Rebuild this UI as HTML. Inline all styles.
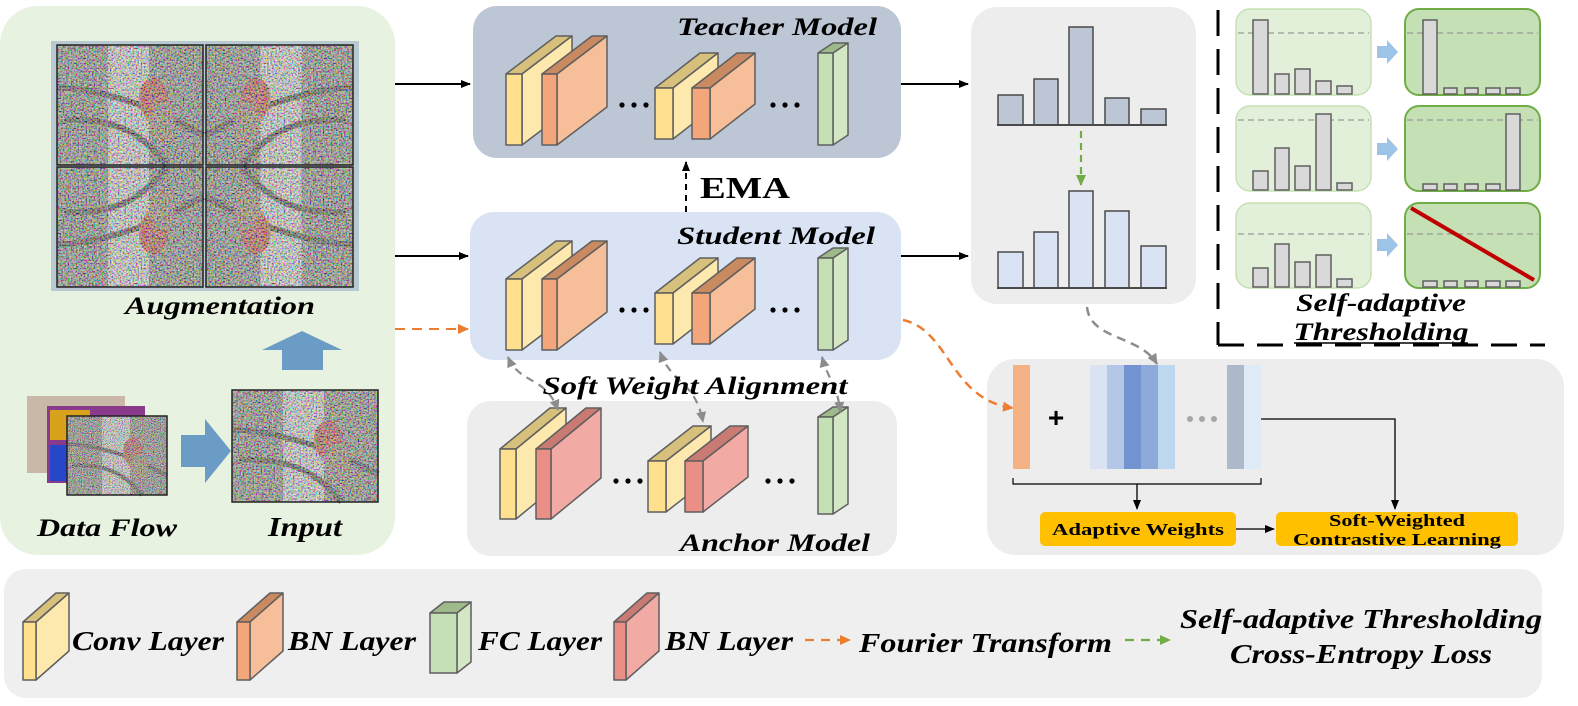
<!DOCTYPE html>
<html><head><meta charset="utf-8"><style>
html,body{margin:0;padding:0;background:#fff;}
svg{display:block;}
text{font-family:"Liberation Serif",serif;font-weight:bold;font-style:italic;fill:#000;}
text.n{font-style:normal;}
</style></head><body>
<svg width="1578" height="706" viewBox="0 0 1578 706" xmlns="http://www.w3.org/2000/svg">
<defs>
<marker id="ab" markerWidth="10" markerHeight="10" refX="9" refY="5" orient="auto" markerUnits="userSpaceOnUse"><path d="M0,1 L10,5 L0,9 Z" fill="#000"/></marker>
<marker id="ao" markerWidth="12" markerHeight="12" refX="10" refY="6" orient="auto" markerUnits="userSpaceOnUse"><path d="M0,1 L11,6 L0,11 Z" fill="#ed7d31"/></marker>
<marker id="ag" markerWidth="12" markerHeight="12" refX="10" refY="6" orient="auto" markerUnits="userSpaceOnUse"><path d="M0,1 L11,6 L0,11 Z" fill="#70ad47"/></marker>
<marker id="agr" markerWidth="12" markerHeight="12" refX="10" refY="6" orient="auto-start-reverse" markerUnits="userSpaceOnUse"><path d="M0,1 L11,6 L0,11 Z" fill="#8c8c8c"/></marker>
<filter id="nz" x="0" y="0" width="100%" height="100%">
<feTurbulence type="fractalNoise" baseFrequency="0.9" numOctaves="1" seed="3"/>
<feColorMatrix type="matrix" values="3 0 0 0 -1  0 3 0 0 -1  0 0 3 0 -1  0 0 0 0 0.6"/>
</filter>
<g id="bird">
<rect x="0" y="0" width="100" height="80" fill="#7d7d74"/>
<rect x="35" y="0" width="28" height="80" fill="#c9c9c6"/>
<path d="M0,28 C30,30 60,38 100,60" stroke="#3e3a33" stroke-width="4" fill="none"/>
<path d="M5,50 C40,48 60,60 75,80" stroke="#3e3a33" stroke-width="4" fill="none"/>
<ellipse cx="66" cy="36" rx="10" ry="14" fill="#b0453a"/>
<ellipse cx="72" cy="52" rx="9" ry="14" fill="#8f7a62"/>
<rect x="0" y="0" width="100" height="80" filter="url(#nz)"/>
</g>
<g id="tblocks" stroke="#5f5f5f" stroke-width="1.5" stroke-linejoin="round">
<polygon points="506,74 556,36 572,36 522,74" fill="#d6c07b"/>
<polygon points="522,74 572,36 572,107 522,145" fill="#fde9ad"/>
<rect x="506" y="74" width="16" height="71" fill="#ffe08e"/>
<polygon points="542,74 592,36 607,36 557,74" fill="#c98a62"/>
<polygon points="557,74 607,36 607,107 557,145" fill="#f6bf9a"/>
<rect x="542" y="74" width="15" height="71" fill="#f2a679"/>
<polygon points="655,88 700,53 718,53 673,88" fill="#d6c07b"/>
<polygon points="673,88 718,53 718,104 673,139" fill="#fde9ad"/>
<rect x="655" y="88" width="18" height="51" fill="#ffe08e"/>
<polygon points="692,88 737,53 755,53 710,88" fill="#c98a62"/>
<polygon points="710,88 755,53 755,104 710,139" fill="#f6bf9a"/>
<rect x="692" y="88" width="18" height="51" fill="#f2a679"/>
<polygon points="818,53 833,43 848,43 833,53" fill="#9fba8a"/>
<polygon points="833,53 848,43 848,135 833,145" fill="#d3e7c5"/>
<rect x="818" y="53" width="15" height="92" fill="#c5e0b4"/>
<g fill="#000" stroke="none"><circle cx="622" cy="105" r="2.6"/><circle cx="634" cy="105" r="2.6"/><circle cx="646" cy="105" r="2.6"/><circle cx="773" cy="105" r="2.6"/><circle cx="785" cy="105" r="2.6"/><circle cx="797" cy="105" r="2.6"/></g>
</g>
</defs>

<!-- Left panel -->
<rect x="0" y="6" width="395" height="549" rx="38" fill="#e8f2e0"/>
<rect x="51" y="41" width="308" height="250" fill="#b9c9d2"/>
<g transform="translate(57,45) scale(1.46,1.5)"><use href="#bird"/></g>
<g transform="translate(206,45) scale(1.47,1.5) translate(100,0) scale(-1,1)"><use href="#bird"/></g>
<g transform="translate(57,167) scale(1.46,1.5) translate(0,80) scale(1,-1)"><use href="#bird"/></g>
<g transform="translate(206,167) scale(1.47,1.5) translate(100,80) scale(-1,-1)"><use href="#bird"/></g>
<g fill="none" stroke="#222" stroke-width="1.5">
<rect x="57" y="45" width="146" height="120"/><rect x="206" y="45" width="147" height="120"/>
<rect x="57" y="167" width="146" height="120"/><rect x="206" y="167" width="147" height="120"/>
</g>
<text x="220" y="314" font-size="25" text-anchor="middle" textLength="190" lengthAdjust="spacingAndGlyphs">Augmentation</text>
<polygon points="262,350 302,331 342,350 323,350 323,370 282,370 282,350" fill="#6a9cc5"/>
<rect x="27" y="396" width="98" height="77" fill="#c9b7a8"/>
<rect x="47" y="406" width="98" height="77" fill="#8a3a8c"/>
<rect x="50" y="410" width="40" height="30" fill="#d9a21c"/>
<rect x="50" y="445" width="20" height="36" fill="#2747c8"/>
<g transform="translate(67,416) scale(1,0.99)"><use href="#bird"/></g>
<rect x="67" y="416" width="100" height="79" fill="none" stroke="#222" stroke-width="1.5"/>
<polygon points="181,435 205,435 205,419 231,451 205,483 205,467 181,467" fill="#6a9cc5"/>
<g transform="translate(232,390) scale(1.46,1.4)"><use href="#bird"/></g>
<rect x="232" y="390" width="146" height="112" fill="none" stroke="#222" stroke-width="1.5"/>
<text x="107" y="536" font-size="25" text-anchor="middle" textLength="140" lengthAdjust="spacingAndGlyphs">Data Flow</text>
<text x="305" y="536" font-size="27" text-anchor="middle" textLength="74" lengthAdjust="spacingAndGlyphs">Input</text>

<!-- arrows from left -->
<line x1="395" y1="84" x2="470" y2="84" stroke="#000" stroke-width="2" marker-end="url(#ab)"/>
<line x1="395" y1="256" x2="468" y2="256" stroke="#000" stroke-width="2" marker-end="url(#ab)"/>
<line x1="395" y1="329" x2="468" y2="329" stroke="#ed7d31" stroke-width="2" stroke-dasharray="10,7" marker-end="url(#ao)"/>

<!-- Teacher -->
<rect x="473" y="6" width="428" height="152" rx="24" fill="#bcc6d4"/>
<text x="877" y="35" font-size="25" text-anchor="end" textLength="200" lengthAdjust="spacingAndGlyphs">Teacher Model</text>
<use href="#tblocks"/>
<!-- EMA -->
<line x1="686" y1="212" x2="686" y2="162" stroke="#000" stroke-width="2" stroke-dasharray="6,5" marker-end="url(#ab)"/>
<text class="n" x="700" y="198" font-size="31" textLength="90" lengthAdjust="spacingAndGlyphs">EMA</text>
<!-- Student -->
<rect x="470" y="212" width="431" height="148" rx="24" fill="#dae3f3"/>
<text x="875" y="244" font-size="25" text-anchor="end" textLength="198" lengthAdjust="spacingAndGlyphs">Student Model</text>
<use href="#tblocks" transform="translate(0,205)"/>
<!-- Anchor -->
<rect x="467" y="401" width="430" height="155" rx="24" fill="#ededed"/>
<text x="870" y="551" font-size="25" text-anchor="end" textLength="190" lengthAdjust="spacingAndGlyphs">Anchor Model</text>
<g stroke="#5f5f5f" stroke-width="1.5" stroke-linejoin="round">
<polygon points="500,449 550,408 566,408 516,449" fill="#d6c07b"/>
<polygon points="516,449 566,408 566,478 516,519" fill="#fde9ad"/>
<rect x="500" y="449" width="16" height="70" fill="#ffe08e"/>
<polygon points="536,449 586,408 601,408 551,449" fill="#c97a72"/>
<polygon points="551,449 601,408 601,478 551,519" fill="#f2aba4"/>
<rect x="536" y="449" width="15" height="70" fill="#ea8f86"/>
<polygon points="648,461 693,426 711,426 666,461" fill="#d6c07b"/>
<polygon points="666,461 711,426 711,477 666,512" fill="#fde9ad"/>
<rect x="648" y="461" width="18" height="51" fill="#ffe08e"/>
<polygon points="685,461 730,426 748,426 703,461" fill="#c97a72"/>
<polygon points="703,461 748,426 748,477 703,512" fill="#f2aba4"/>
<rect x="685" y="461" width="18" height="51" fill="#ea8f86"/>
<polygon points="818,417 833,407 848,407 833,417" fill="#9fba8a"/>
<polygon points="833,417 848,407 848,504 833,514" fill="#d3e7c5"/>
<rect x="818" y="417" width="15" height="97" fill="#c5e0b4"/>
<g fill="#000" stroke="none"><circle cx="616" cy="481" r="2.6"/><circle cx="628" cy="481" r="2.6"/><circle cx="640" cy="481" r="2.6"/><circle cx="768" cy="481" r="2.6"/><circle cx="780" cy="481" r="2.6"/><circle cx="792" cy="481" r="2.6"/></g>
</g>
<!-- soft weight alignment arrows -->
<g fill="none" stroke="#8c8c8c" stroke-width="2.2" stroke-dasharray="8,6">
<path d="M508,357 C520,385 545,375 558,410" marker-start="url(#agr)" marker-end="url(#agr)"/>
<path d="M660,352 C672,385 695,380 703,422" marker-start="url(#agr)" marker-end="url(#agr)"/>
<path d="M822,357 C828,380 838,385 840,412" marker-start="url(#agr)" marker-end="url(#agr)"/>
</g>
<text x="695" y="394" font-size="25" text-anchor="middle" textLength="305" lengthAdjust="spacingAndGlyphs">Soft Weight Alignment</text>

<!-- Histogram panel -->
<line x1="901" y1="84" x2="968" y2="84" stroke="#000" stroke-width="2" marker-end="url(#ab)"/>
<line x1="901" y1="256" x2="968" y2="256" stroke="#000" stroke-width="2" marker-end="url(#ab)"/>
<rect x="971" y="7" width="225" height="297" rx="26" fill="#ededed"/>
<g stroke="#4a4a4a" stroke-width="1.5" fill="#bcc6d4">
<rect x="998" y="95" width="25" height="30"/><rect x="1034" y="79" width="24" height="46"/><rect x="1069" y="27" width="24" height="98"/><rect x="1105" y="98" width="24" height="27"/><rect x="1141" y="109" width="25" height="16"/>
</g>
<line x1="997" y1="125" x2="1167" y2="125" stroke="#4a4a4a" stroke-width="2"/>
<g stroke="#4a4a4a" stroke-width="1.5" fill="#dae3f3">
<rect x="998" y="252" width="25" height="36"/><rect x="1034" y="232" width="24" height="56"/><rect x="1069" y="191" width="24" height="97"/><rect x="1105" y="211" width="24" height="77"/><rect x="1141" y="246" width="25" height="42"/>
</g>
<line x1="997" y1="288" x2="1167" y2="288" stroke="#4a4a4a" stroke-width="2"/>
<line x1="1081" y1="131" x2="1081" y2="185" stroke="#70ad47" stroke-width="2.2" stroke-dasharray="7,5" marker-end="url(#ag)"/>

<!-- Self-adaptive thresholding -->
<g stroke="#000" stroke-width="3" stroke-dasharray="26,13">
<line x1="1218" y1="10" x2="1218" y2="345"/>
<line x1="1218" y1="345" x2="1545" y2="345"/>
</g>
<g>
<rect x="1236" y="9" width="135" height="86" rx="14" fill="#e2f0d9" stroke="#c5e0b4" stroke-width="1.5"/>
<rect x="1236" y="106" width="135" height="85" rx="14" fill="#e2f0d9" stroke="#c5e0b4" stroke-width="1.5"/>
<rect x="1236" y="203" width="135" height="85" rx="14" fill="#e2f0d9" stroke="#c5e0b4" stroke-width="1.5"/>
<rect x="1405" y="9" width="135" height="86" rx="14" fill="#c5e0b4" stroke="#70ad47" stroke-width="2"/>
<rect x="1405" y="106" width="135" height="85" rx="14" fill="#c5e0b4" stroke="#70ad47" stroke-width="2"/>
<rect x="1405" y="203" width="135" height="85" rx="14" fill="#c5e0b4" stroke="#70ad47" stroke-width="2"/>
</g>
<g stroke="#999" stroke-width="1.2" stroke-dasharray="6,4">
<line x1="1238" y1="33" x2="1369" y2="33"/><line x1="1407" y1="33" x2="1538" y2="33"/>
<line x1="1238" y1="120" x2="1369" y2="120"/><line x1="1407" y1="120" x2="1538" y2="120"/>
<line x1="1238" y1="234" x2="1369" y2="234"/><line x1="1407" y1="234" x2="1538" y2="234"/>
</g>
<g fill="#d9d9d9" stroke="#5f5f5f" stroke-width="1.5">
<rect x="1253" y="20" width="15" height="74"/><rect x="1275" y="74" width="14" height="20"/><rect x="1295" y="69" width="15" height="25"/><rect x="1316" y="81" width="15" height="13"/><rect x="1337" y="86" width="15" height="8"/>
<rect x="1253" y="171" width="15" height="19"/><rect x="1275" y="148" width="14" height="42"/><rect x="1295" y="166" width="15" height="24"/><rect x="1316" y="114" width="15" height="76"/><rect x="1337" y="183" width="15" height="7"/>
<rect x="1253" y="268" width="15" height="19"/><rect x="1275" y="244" width="14" height="43"/><rect x="1295" y="262" width="15" height="25"/><rect x="1316" y="255" width="15" height="32"/><rect x="1337" y="279" width="15" height="8"/>
<rect x="1423" y="20" width="14" height="74"/><rect x="1444" y="88" width="13" height="6"/><rect x="1465" y="88" width="13" height="6"/><rect x="1486" y="88" width="14" height="6"/><rect x="1506" y="88" width="14" height="6"/>
<rect x="1423" y="184" width="14" height="6"/><rect x="1444" y="184" width="13" height="6"/><rect x="1465" y="184" width="13" height="6"/><rect x="1486" y="184" width="14" height="6"/><rect x="1506" y="114" width="14" height="76"/>
<rect x="1423" y="281" width="14" height="6"/><rect x="1444" y="281" width="13" height="6"/><rect x="1465" y="281" width="13" height="6"/><rect x="1486" y="281" width="14" height="6"/><rect x="1506" y="281" width="14" height="6"/>
</g>
<line x1="1411" y1="208" x2="1534" y2="280" stroke="#c00000" stroke-width="4"/>
<g fill="#9dc3e6">
<polygon points="1377,46 1387,46 1387,40 1398,52 1387,64 1387,58 1377,58"/>
<polygon points="1377,143 1387,143 1387,137 1398,149 1387,161 1387,155 1377,155"/>
<polygon points="1377,239 1387,239 1387,233 1398,245 1387,257 1387,251 1377,251"/>
</g>
<text x="1381" y="311" font-size="25" text-anchor="middle" textLength="170" lengthAdjust="spacingAndGlyphs">Self-adaptive</text>
<text x="1381" y="340" font-size="25" text-anchor="middle" textLength="175" lengthAdjust="spacingAndGlyphs">Thresholding</text>
<line x1="1294" y1="343" x2="1468" y2="343" stroke="#000" stroke-width="1.5"/>

<!-- Bottom right panel -->
<rect x="987" y="359" width="577" height="196" rx="28" fill="#ededed"/>
<path d="M1087,307 C1090,340 1140,335 1157,364" fill="none" stroke="#8c8c8c" stroke-width="2.5" stroke-dasharray="9,6" marker-end="url(#agr)"/>
<path d="M903,320 C950,330 950,400 1013,408" fill="none" stroke="#ed7d31" stroke-width="2.5" stroke-dasharray="9,6" marker-end="url(#ao)"/>
<rect x="1013" y="365" width="17" height="104" fill="#f4b183"/>
<text class="n" x="1056" y="427" font-size="28" text-anchor="middle" style="font-family:'Liberation Sans',sans-serif">+</text>
<rect x="1090" y="365" width="17" height="104" fill="#dae3f3"/>
<rect x="1107" y="365" width="17" height="104" fill="#b4c7e7"/>
<rect x="1124" y="365" width="17" height="104" fill="#7294d1"/>
<rect x="1141" y="365" width="17" height="104" fill="#8eaadb"/>
<rect x="1158" y="365" width="17" height="104" fill="#bdd7ee"/>
<g fill="#a6a6a6"><circle cx="1190" cy="419" r="3"/><circle cx="1202" cy="419" r="3"/><circle cx="1214" cy="419" r="3"/></g>
<rect x="1227" y="365" width="17" height="104" fill="#adb9ca"/>
<rect x="1244" y="365" width="17" height="104" fill="#deebf7"/>
<path d="M1013,478 L1013,484 L1261,484 L1261,478" fill="none" stroke="#000" stroke-width="1.2"/>
<line x1="1137" y1="484" x2="1137" y2="509" stroke="#000" stroke-width="1.3" marker-end="url(#ab)"/>
<path d="M1261,419 L1395,419 L1395,509" fill="none" stroke="#000" stroke-width="1.3" marker-end="url(#ab)"/>
<rect x="1040" y="512" width="196" height="34" rx="5" fill="#ffc000"/>
<rect x="1276" y="512" width="242" height="34" rx="5" fill="#ffc000"/>
<line x1="1236" y1="529" x2="1274" y2="529" stroke="#000" stroke-width="1.3" marker-end="url(#ab)"/>
<text class="n" x="1138" y="535" font-size="17" text-anchor="middle" textLength="172" lengthAdjust="spacingAndGlyphs">Adaptive Weights</text>
<text class="n" x="1397" y="526" font-size="17" text-anchor="middle" textLength="136" lengthAdjust="spacingAndGlyphs">Soft-Weighted</text>
<text class="n" x="1397" y="545" font-size="17" text-anchor="middle" textLength="208" lengthAdjust="spacingAndGlyphs">Contrastive Learning</text>

<!-- Legend -->
<rect x="4" y="569" width="1538" height="129" rx="22" fill="#efefef"/>
<g stroke="#5f5f5f" stroke-width="1.5" stroke-linejoin="round">
<polygon points="23,622 56,593 69,593 36,622" fill="#d6c07b"/>
<polygon points="36,622 69,593 69,651 36,680" fill="#fde9ad"/>
<rect x="23" y="622" width="13" height="58" fill="#ffe08e"/>
<polygon points="237,622 270,593 283,593 250,622" fill="#c98a62"/>
<polygon points="250,622 283,593 283,651 250,680" fill="#f6bf9a"/>
<rect x="237" y="622" width="13" height="58" fill="#f2a679"/>
<polygon points="430,613 444,602 471,602 457,613" fill="#9fba8a"/>
<polygon points="457,613 471,602 471,662 457,673" fill="#d3e7c5"/>
<rect x="430" y="613" width="27" height="60" fill="#c5e0b4"/>
<polygon points="614,622 647,593 659,593 626,622" fill="#c97a72"/>
<polygon points="626,622 659,593 659,651 626,680" fill="#f2aba4"/>
<rect x="614" y="622" width="12" height="58" fill="#ea8f86"/>
</g>
<text x="72" y="650" font-size="27" textLength="152" lengthAdjust="spacingAndGlyphs">Conv Layer</text>
<text x="288" y="650" font-size="27" textLength="128" lengthAdjust="spacingAndGlyphs">BN Layer</text>
<text x="478" y="650" font-size="27" textLength="124" lengthAdjust="spacingAndGlyphs">FC Layer</text>
<text x="665" y="650" font-size="27" textLength="128" lengthAdjust="spacingAndGlyphs">BN Layer</text>
<line x1="805" y1="640" x2="850" y2="640" stroke="#ed7d31" stroke-width="2.2" stroke-dasharray="9,7" marker-end="url(#ao)"/>
<text x="859" y="652" font-size="27" textLength="253" lengthAdjust="spacingAndGlyphs">Fourier Transform</text>
<line x1="1125" y1="640" x2="1170" y2="640" stroke="#70ad47" stroke-width="2.2" stroke-dasharray="9,7" marker-end="url(#ag)"/>
<text x="1180" y="628" font-size="27" textLength="362" lengthAdjust="spacingAndGlyphs">Self-adaptive Thresholding</text>
<text x="1230" y="663" font-size="27" textLength="262" lengthAdjust="spacingAndGlyphs">Cross-Entropy Loss</text>
</svg>
</body></html>
